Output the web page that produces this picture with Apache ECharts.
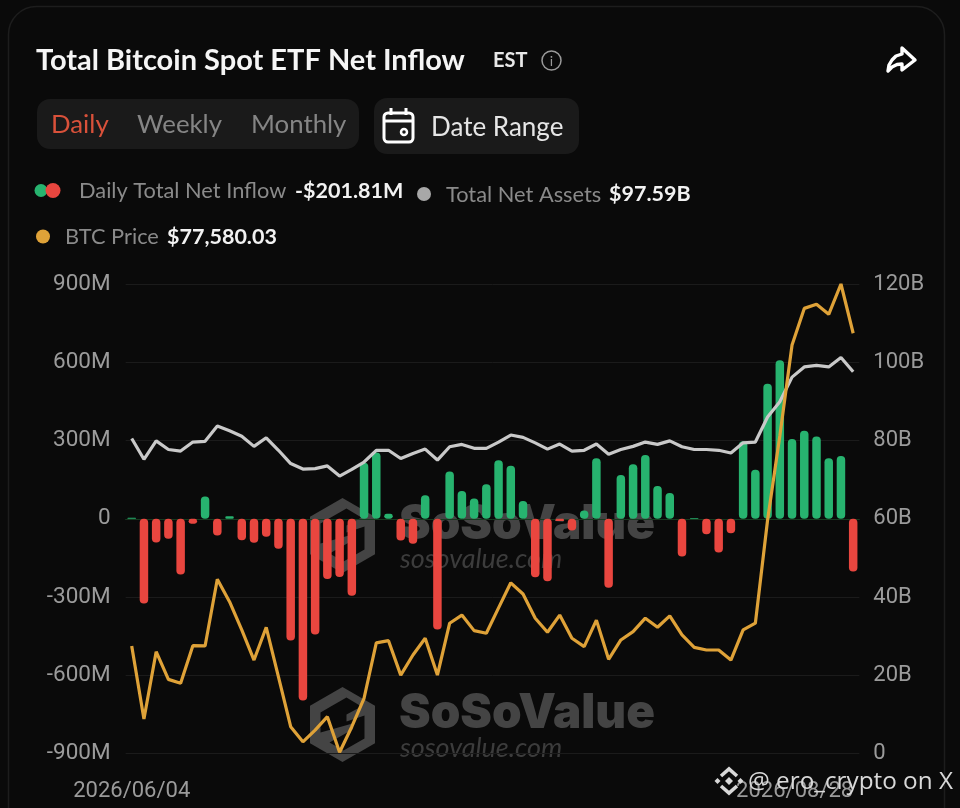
<!DOCTYPE html>
<html><head><meta charset="utf-8">
<style>html,body{margin:0;padding:0;background:#0a0a0a}#c{width:960px;height:808px}</style>
<script src="https://cdn.jsdelivr.net/npm/echarts@6/dist/echarts.min.js"></script>
</head><body><div id="c"></div>
<script>
var dates = ["2026/06/04","2026/06/05","2026/06/08","2026/06/09","2026/06/10","2026/06/11","2026/06/12","2026/06/15","2026/06/16","2026/06/17","2026/06/18","2026/06/22","2026/06/23","2026/06/24","2026/06/25","2026/06/26","2026/06/29","2026/06/30","2026/07/01","2026/07/02","2026/07/06","2026/07/07","2026/07/08","2026/07/09","2026/07/10","2026/07/13","2026/07/14","2026/07/15","2026/07/16","2026/07/17","2026/07/20","2026/07/21","2026/07/22","2026/07/23","2026/07/24","2026/07/27","2026/07/28","2026/07/29","2026/07/30","2026/07/31","2026/08/03","2026/08/04","2026/08/05","2026/08/06","2026/08/07","2026/08/10","2026/08/11","2026/08/12","2026/08/13","2026/08/14","2026/08/17","2026/08/18","2026/08/19","2026/08/20","2026/08/21","2026/08/24","2026/08/25","2026/08/26","2026/08/27","2026/08/28"];
var netInflow = [4,-325,-91,-77,-214,-19,85,-64,10,-82,-92,-69,-115,-467,-697,-444,-231,-223,-295,215,254,19,-83,-96,90,-425,181,106,78,132,224,203,68,-224,-240,-9,-45,32,232,-265,168,209,244,126,99,-145,3,-59,-129,-56,297,188,518,608,306,337,315,232,241,-201.81];
var netAssets = [80.5,75.2,79.9,77.7,77.3,79.6,79.8,83.7,82.5,81.1,78.5,80.7,77.5,74.1,72.7,72.8,73.5,70.9,72.6,74.5,77.5,77.5,75.4,76.7,77.8,75.0,78.4,79.0,78.0,78.0,79.6,81.4,80.8,79.4,77.8,79.1,77.3,77.5,79.1,76.5,77.7,78.5,79.6,79.0,79.9,78.4,77.7,77.7,77.5,76.8,79.4,79.6,86.0,89.9,96.2,98.8,99.2,98.8,101.2,97.59];
var btcPrice = [64500,61440,64260,63100,62940,64510,64500,67290,66350,65170,63910,65280,63210,61120,60490,60980,61540,60050,61120,62310,64630,64720,63280,64120,64820,63280,65450,65790,65140,65030,66090,67140,66670,65660,65070,65790,64820,64470,65580,63940,64750,65100,65660,65280,65760,64960,64440,64330,64330,63910,65170,65450,69770,73280,77090,78620,78790,78370,79640,77580.03];
var leftTicks = {min:-900,max:900,interval:300};
var rightTicks = {min:0,max:120,interval:20};

var GREEN='#27b36f', RED='#e9463f', GOLD='#dfa238', WHITE='#c9c9c9', TICK='#9b9b9b', WM='#444444';
var sans='Lato, "Noto Sans", sans-serif';

function hex(cx,cy){
  var rx=32.5, ry=37.5;
  return [
   {type:'polygon',z:-5,shape:{points:[[cx,cy-ry],[cx+rx,cy-ry/2],[cx+rx,cy+ry/2],[cx,cy+ry],[cx-rx,cy+ry/2],[cx-rx,cy-ry/2]]},style:{fill:WM}},
   {type:'polygon',z:-4,shape:{points:[[cx-10,cy-19],[cx+4,cy-27],[cx+19,cy-18],[cx+4,cy-10],[cx+4,cy-3],[cx+22,cy-9],[cx+22,cy+14],[cx+1,cy+26],[cx-13,cy+18],[cx+10,cy+5],[cx+10,cy-1],[cx-22,cy+8],[cx-22,cy-12]]},style:{fill:'#0a0a0a'}}
  ];
}
function wmText(y){
  return [
   {type:'text',z:-3,style:{x:399,y:y-24,text:'SoSoValue',fill:WM,font:'900 47.5px Inter, "Liberation Sans", sans-serif',textVerticalAlign:'top'}},
   {type:'text',z:-3,style:{x:400,y:y+21,text:'sosovalue.com',fill:'#3c3c3c',font:'italic 27px Lato, sans-serif',textVerticalAlign:'top'}}
  ];
}
function txt(x,y,t,fill,font){return {type:'text',z:20,style:{x:x,y:y,text:t,fill:fill,font:font,textVerticalAlign:'middle'}};}
function dot(x,y,r,c,z){return {type:'circle',z:z||20,shape:{cx:x,cy:y,r:r},style:{fill:c}};}
function tile(x,y,s){return {type:'polygon',z:30,shape:{points:[[x,y-s],[x+s,y],[x,y+s],[x-s,y]]},style:{fill:'#d8d8d8'}};}

var graphics = [
  {type:'rect',z:-10,shape:{x:8.5,y:6.5,width:936,height:830,r:28},style:{fill:'#0a0a0a',stroke:'#1d1d1d',lineWidth:1.5}},
  {type:'rect',z:-9,shape:{x:37,y:99,width:322,height:50,r:13},style:{fill:'#1a1a1a'}},
  {type:'rect',z:-9,shape:{x:374,y:98,width:205,height:56,r:13},style:{fill:'#1a1a1a'}},
  txt(493,61,'EST','#e8e8e8','700 20px '+sans),
  {type:'circle',z:20,shape:{cx:551.5,cy:60.5,r:9.5},style:{fill:'none',stroke:'#9a9a9a',lineWidth:1.5}},
  {type:'text',z:20,style:{x:551.5,y:61,text:'i',fill:'#9a9a9a',font:'400 14px '+sans,textAlign:'center',textVerticalAlign:'middle'}},
  {type:'polygon',z:20,shape:{points:[[902,48],[915,60],[902,70],[902,64],[897,64.5],[892,67],[888,71],[889,65],[892,60],[896,56],[902,54]]},style:{fill:'none',stroke:'#ffffff',lineWidth:3.4,lineJoin:'round'}},
  txt(51,125,'Daily','#d9513a','400 25.8px '+sans),
  txt(137,125,'Weekly','#858585','400 25.8px '+sans),
  txt(251,125,'Monthly','#858585','400 25.8px '+sans),
  {type:'rect',z:20,shape:{x:384,y:113,width:29,height:29,r:4},style:{fill:'none',stroke:'#ffffff',lineWidth:3}},
  {type:'line',z:20,shape:{x1:384,y1:121,x2:413,y2:121},style:{stroke:'#ffffff',lineWidth:3}},
  {type:'line',z:20,shape:{x1:391,y1:108,x2:391,y2:115},style:{stroke:'#ffffff',lineWidth:3}},
  {type:'line',z:20,shape:{x1:406,y1:108,x2:406,y2:115},style:{stroke:'#ffffff',lineWidth:3}},
  {type:'circle',z:20,shape:{cx:404,cy:132,r:3},style:{fill:'none',stroke:'#ffffff',lineWidth:2.5}},
  txt(431,127.5,'Date Range','#e6e6e6','400 26px '+sans),
  dot(41,190.5,6.5,GREEN,20),
  dot(53,190.5,7.5,RED,21),
  txt(79,191,'Daily Total Net Inflow','#8a8a8a','400 21.8px '+sans),
  txt(295,191,'-$201.81M','#f2f2f2','700 21.5px '+sans),
  dot(424,194,7,'#a8a8a8'),
  txt(446,194.5,'Total Net Assets','#8a8a8a','400 21.8px '+sans),
  txt(609,194.5,'$97.59B','#f2f2f2','700 21.5px '+sans),
  dot(43,236.5,7,GOLD),
  txt(65,237,'BTC Price','#8a8a8a','400 21.8px '+sans),
  txt(167,237,'$77,580.03','#f2f2f2','700 21.5px '+sans),
  {type:'polyline',z:30,shape:{points:[[721,776],[729,769],[737,776]]},style:{fill:'none',stroke:'#d8d8d8',lineWidth:3.6}},
  {type:'polyline',z:30,shape:{points:[[721,786],[729,793],[737,786]]},style:{fill:'none',stroke:'#d8d8d8',lineWidth:3.6}},
  tile(717.5,781,3), tile(740.5,781,3), tile(729,781,4),
  {type:'text',z:30,style:{x:748,y:782,text:'@ ero_crypto on X',fill:'#d8d8d8',font:'400 24.3px "Open Sans", sans-serif',textVerticalAlign:'middle'}}
].concat(hex(342.5,535.5),hex(342.5,724.5),wmText(525),wmText(714));

var option = {
  animation:false,
  backgroundColor:'#0a0a0a',
  title:{text:'Total Bitcoin Spot ETF Net Inflow',left:31,top:41,textStyle:{color:'#f5f5f5',fontFamily:'Lato',fontWeight:700,fontSize:29}},
  grid:{left:125.6,right:100.7,top:284,height:469.5,containLabel:false},
  xAxis:{type:'category',data:dates,
    axisLine:{show:true,lineStyle:{color:'#17391f',width:1}, onZero:true},
    axisTick:{show:false},
    axisLabel:{show:true,color:TICK,fontFamily:'Roboto',fontSize:22,margin:27,interval:58,alignMinLabel:'center',alignMaxLabel:'right',hideOverlap:false}
  },
  yAxis:[
    {type:'value',min:leftTicks.min,max:leftTicks.max,interval:leftTicks.interval,position:'left',
     axisLabel:{color:TICK,fontFamily:'Roboto',fontSize:22.5,margin:15,formatter:function(v){return v===0?'0':v+'M';}},
     axisLine:{show:false},axisTick:{show:false},splitLine:{lineStyle:{color:'#1b1b1b',width:1}}},
    {type:'value',min:rightTicks.min,max:rightTicks.max,interval:rightTicks.interval,position:'right',
     axisLabel:{color:TICK,fontFamily:'Roboto',fontSize:22,margin:14,formatter:function(v){return v===0?'0':v+'B';}},
     axisLine:{show:false},axisTick:{show:false},splitLine:{show:false}},
    {type:'value',min:60000,max:79640,show:false,splitLine:{show:false}}
  ],
  series:[
    {name:'Daily Total Net Inflow',type:'bar',yAxisIndex:0,barWidth:8.5,data:netInflow,
     itemStyle:{borderRadius:4,color:function(p){return p.value>=0?GREEN:RED;}}},
    {name:'Total Net Assets',type:'line',yAxisIndex:1,data:netAssets,showSymbol:false,symbol:'none',lineStyle:{color:WHITE,width:3.2}},
    {name:'BTC Price',type:'line',yAxisIndex:2,data:btcPrice,showSymbol:false,symbol:'none',lineStyle:{color:GOLD,width:3.2}}
  ],
  graphic:{elements:graphics}
};
var chart = echarts.init(document.getElementById('c'),null,{renderer:'canvas',width:960,height:808});
chart.setOption(option);
</script></body></html>
